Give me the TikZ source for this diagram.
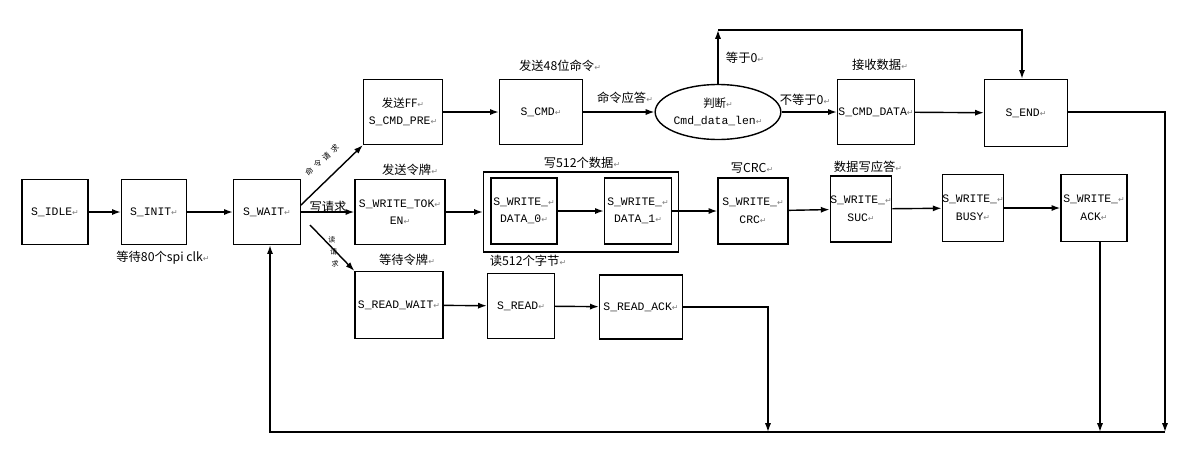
\documentclass[tikz,border=0pt]{standalone}
\usepackage{fontspec}
\setmainfont{Liberation Mono}
\newfontfamily\cjk{Noto Sans CJK SC}
\newfontfamily\symf{DejaVu Sans}
\usetikzlibrary{shapes.geometric,arrows.meta}
\newcommand{\pmk}{{\symf\fontsize{4.5}{5}\selectfont\color{gray}↵}}
\begin{document}
\begin{tikzpicture}[x=0.02cm,y=-0.02cm,
  st/.style={draw,thick,minimum width=#1*0.02cm,align=center,font=\fontsize{6.5}{10}\selectfont,inner sep=0pt},
  lb/.style={font=\cjk\fontsize{7}{9}\selectfont},
  ar/.style={thick,-{Latex[length=5pt,width=3.5pt]}},
  ln/.style={thick}]
\useasboundingbox (0,0) rectangle (1184,460);
% states: st=width, height set per node
\node[st=66,minimum height=1.3cm] (idle) at (55,212) {S\_IDLE\pmk};
\node[st=65,minimum height=1.3cm] (init) at (154,212) {S\_INIT\pmk};
\node[st=67,minimum height=1.3cm] (wait) at (267,212) {S\_WAIT\pmk};
\node[st=79,minimum height=1.3cm] (pre) at (403,112) {{\cjk 发送FF}\pmk\\S\_CMD\_PRE\pmk};
\node[st=83,minimum height=1.3cm] (cmd) at (541,112) {S\_CMD\pmk};
\node[draw,ellipse,thick,minimum width=2cm,minimum height=1.1cm,inner sep=0pt,align=center,font=\fontsize{6.5}{10}\selectfont] (judge) at (718,112) {{\cjk 判断}\pmk\\Cmd\_data\_len\pmk};
\node[st=77,minimum height=1.3cm] (cdata) at (876,112) {S\_CMD\_DATA\pmk};
\node[st=83,minimum height=1.34cm] (send) at (1026,113) {S\_END\pmk};
\node[st=90,minimum height=1.3cm] (tok) at (400,212) {S\_WRITE\_TOK\pmk\\EN\pmk};
\node[draw,thick,minimum width=3.9cm,minimum height=1.6cm] (grp) at (581,212) {};
\node[st=66,minimum height=1.32cm] (d0) at (524,211) {S\_WRITE\_\pmk\\DATA\_0\pmk};
\node[st=67,minimum height=1.32cm] (d1) at (638,211) {S\_WRITE\_\pmk\\DATA\_1\pmk};
\node[st=70,minimum height=1.32cm] (crc) at (753,211) {S\_WRITE\_\pmk\\CRC\pmk};
\node[st=61,minimum height=1.32cm] (suc) at (861,209) {S\_WRITE\_\pmk\\SUC\pmk};
\node[st=55,minimum height=1.34cm] (busy) at (973,208) {S\_WRITE\_\pmk\\BUSY\pmk};
\node[st=66,minimum height=1.34cm] (ack) at (1094,208) {S\_WRITE\_\pmk\\ACK\pmk};
\node[st=88,minimum height=1.34cm] (rw) at (399,305) {S\_READ\_WAIT\pmk};
\node[st=67,minimum height=1.3cm] (rd) at (521,306) {S\_READ\pmk};
\node[st=83,minimum height=1.28cm] (rack) at (641,307) {S\_READ\_ACK\pmk};
% labels
\node[lb] (l1) at (560,66) {发送48位命令\pmk};
\node[lb] (l2) at (625,98) {命令应答\pmk};
\node[lb] (l3) at (745,58) {等于0\pmk};
\node[lb] (l4) at (805,100) {不等于0\pmk};
\node[lb] (l5) at (880,65) {接收数据\pmk};
\node[lb] (l6) at (410,170) {发送令牌\pmk};
\node[lb] (l7) at (582,163) {写512个数据\pmk};
\node[lb] (l8) at (752,168) {写CRC\pmk};
\node[lb] (l9) at (868,167) {数据写应答\pmk};
\node[lb] (l10) at (407,260) {等待令牌\pmk};
\node[lb] (l11) at (528,261) {读512个字节\pmk};
\node[lb] (l12) at (163,258) {等待80个spi clk\pmk};
\node[lb] (l13) at (328,207) {写请求};
\node[lb,font=\cjk\fontsize{4.5}{6}\selectfont,rotate=42] (l14) at (322,160) {命\ \ 令\ \ 请\ \ 求};
\node[lb,font=\cjk\fontsize{4}{6}\selectfont,align=center] (l15) at (332,252) {读\\[1pt]\ \ 请\\[1pt]\ \ \ \ 求};
% coordinates
\coordinate (wo) at (301,205);
\coordinate (ws) at (310,225);
\coordinate (top1) at (718,30);
\coordinate (top2) at (1022,30);
\coordinate (b1) at (768,307);
\coordinate (b1e) at (768,432);
\coordinate (b2e) at (1100,432);
\coordinate (b3) at (1165,112);
\coordinate (b3e) at (1165,432);
\coordinate (b0) at (270,432);
% connectors
\draw[ar] (idle) -- (init);
\draw[ar] (init) -- (wait);
\draw[ar] (wo) -- (pre.south west);
\draw[ar] (wait) -- (tok);
\draw[ar] (ws) -- (rw.north west);
\draw[ar] (pre) -- (cmd);
\draw[ar] (cmd) -- (judge);
\draw[ar] (judge) -- (cdata);
\draw[ar] (cdata) -- (send);
\draw[ar] (judge.north) -- (top1);
\draw[ar] (top1) -- (top2) -- (send.north -| top2);
\draw[ar] (tok) -- (grp.west |- tok);
\draw[ar] (d0) -- (d1);
\draw[ar] (d1) -- (crc);
\draw[ar] (crc) -- (suc);
\draw[ar] (suc) -- (busy);
\draw[ar] (busy) -- (ack);
\draw[ar] (rw) -- (rd);
\draw[ar] (rd) -- (rack);
\draw[ar] (rack.east) -- (b1) -- (b1e);
\draw[ar] (ack.south -| b2e) -- (b2e);
\draw[ar] (send.east |- b3) -- (b3) -- (b3e);
\draw[ar] (b3e) -- (b0) -- (wait.south -| b0);
\end{tikzpicture}
\end{document}
